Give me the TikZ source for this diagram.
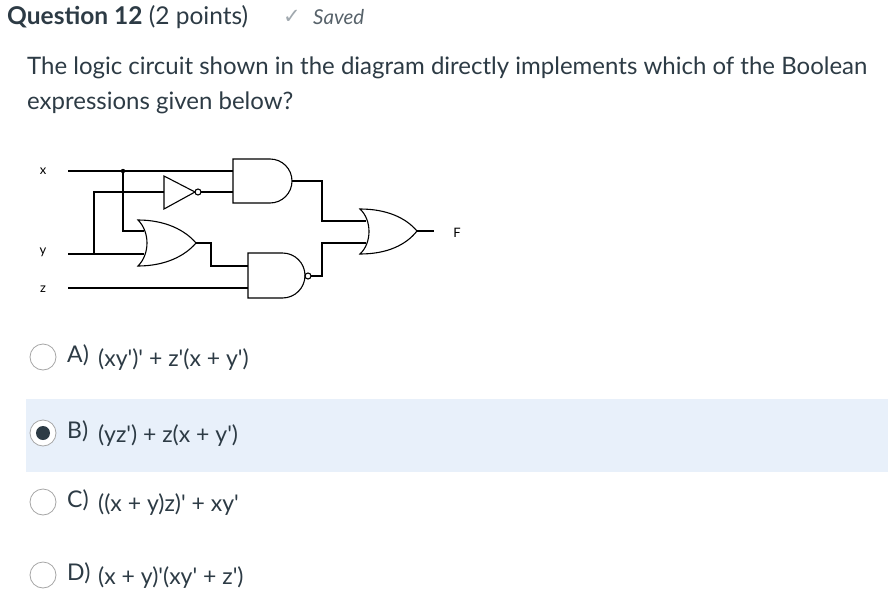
\documentclass[tikz,border=0pt]{standalone}
\usepackage{fontspec}
\setmainfont{Lato}
\newfontfamily\symfont{DejaVu Sans}
\newcommand\pr{\textquotesingle}
\definecolor{txt}{HTML}{2D3B45}
\definecolor{hl}{HTML}{E8F0FA}
\definecolor{ck}{HTML}{A0A8AE}
\begin{document}
\begin{tikzpicture}[x=1pt,y=-1pt,
  wire/.style={line width=1.1pt,black},
  gate/.style={line width=1.1pt,black},
  lbl/.style={font=\fontsize{13}{15}\selectfont,inner sep=0pt},
  body/.style={font=\fontsize{24}{28}\selectfont,text=txt,anchor=west,inner sep=0pt},
  opt/.style={font=\fontsize{23}{28}\selectfont,text=txt,anchor=west,inner sep=0pt},
  radio/.style={circle,draw=gray!70,line width=0.8pt,minimum size=26pt,inner sep=0pt,fill=white}]
\useasboundingbox (0,0) rectangle (888,610);
\fill[white] (0,0) rectangle (888,610);
% header
\node[anchor=west,inner sep=0pt,text=txt,font=\fontsize{24.5}{28}\selectfont] (hd) at (7,17) {\textbf{Question 12} (2 points)};
\node[anchor=west,inner sep=0pt,text=ck,font=\fontsize{21}{24}\selectfont\symfont] (ck) at (283,17) {✓};
\node[anchor=west,inner sep=0pt,text=txt!80,font=\fontsize{20.5}{24}\selectfont\itshape] (sv) at (313,17) {Saved};
\node[body] (q1) at (27,68) {The logic circuit shown in the diagram directly implements which of the Boolean};
\node[body] (q2) at (27,103) {expressions given below?};
% circuit coordinates
\coordinate (xin) at (68,171);
\coordinate (yin) at (68,254);
\coordinate (zin) at (68,288);
\node[lbl] (xl) at (43,171) {x};
\node[lbl] (yl) at (43,252) {y};
\node[lbl] (zl) at (43,289) {z};
% AND1
\draw[gate] (233,159) -- (270,159) arc(-90:90:22) -- (233,203) -- cycle;
\coordinate (a1i1) at (233,171); \coordinate (a1i2) at (233,192); \coordinate (a1o) at (292,181);
% NOT
\draw[gate] (164,176) -- (195,192) -- (164,209) -- cycle;
\draw[gate] (198,192) circle (3);
\coordinate (ni) at (164,192); \coordinate (no) at (201,192);
% OR1
\draw[gate] (138,220) .. controls (150,232) and (150,254) .. (138,266)
  .. controls (165,266) and (185,256) .. (196,243)
  .. controls (185,230) and (165,220) .. (138,220) -- cycle;
\coordinate (o1i1) at (144,231); \coordinate (o1i2) at (144,254); \coordinate (o1o) at (196,243);
% NAND
\draw[gate] (248,253) -- (282.5,253) arc(-90:90:22.5) -- (248,298) -- cycle;
\draw[gate] (308,276) circle (3);
\coordinate (ndi1) at (248,266); \coordinate (ndi2) at (248,288); \coordinate (ndo) at (311,276);
% OR2
\draw[gate] (360,209) .. controls (372,220) and (372,243) .. (360,254)
  .. controls (387,254) and (406,245) .. (417,231)
  .. controls (406,218) and (387,209) .. (360,209) -- cycle;
\coordinate (o2i1) at (366,221); \coordinate (o2i2) at (366,243); \coordinate (o2o) at (417,231);
\coordinate (fo) at (434,231);
\node[lbl] (fl) at (457,233) {F};
% wires
\coordinate (dot) at (123,171);
\draw[wire] (xin) -- (a1i1);
\fill (dot) circle (2.2);
\draw[wire] (dot) |- (o1i1);
\draw[wire] (yin) -- (o1i2);
\draw[wire] (94,254) |- (ni);
\draw[wire] (no) -- (a1i2);
\draw[wire] (a1o) -| (322,221) -- (o2i1);
\draw[wire] (o1o) -| (211,266) -- (ndi1);
\draw[wire] (zin) -- (ndi2);
\draw[wire] (ndo) -| (322,243) -- (o2i2);
\draw[wire] (o2o) -- (fo);
% options
\fill[hl] (26,399) rectangle (888,472);
\node[radio] (ra) at (43,357) {};
\node[radio] (rb) at (43,433) {};
\fill[txt] (rb) circle (7);
\node[radio] (rc) at (43,502) {};
\node[radio] (rd) at (43,575) {};
\node[opt] (la) at (67,355) {A)};
\node[opt] (ea) at (98,360) {(xy\pr)\pr{} + z\pr(x + y\pr)};
\node[opt] (lb) at (67,431) {B)};
\node[opt] (eb) at (98,436) {(yz\pr) + z(x + y\pr)};
\node[opt] (lc) at (67,500) {C)};
\node[opt] (ec) at (98,505) {((x + y)z)\pr{} + xy\pr};
\node[opt] (ld) at (67,573) {D)};
\node[opt] (ed) at (98,578) {(x + y)\pr(xy\pr{} + z\pr)};
\end{tikzpicture}
\end{document}
